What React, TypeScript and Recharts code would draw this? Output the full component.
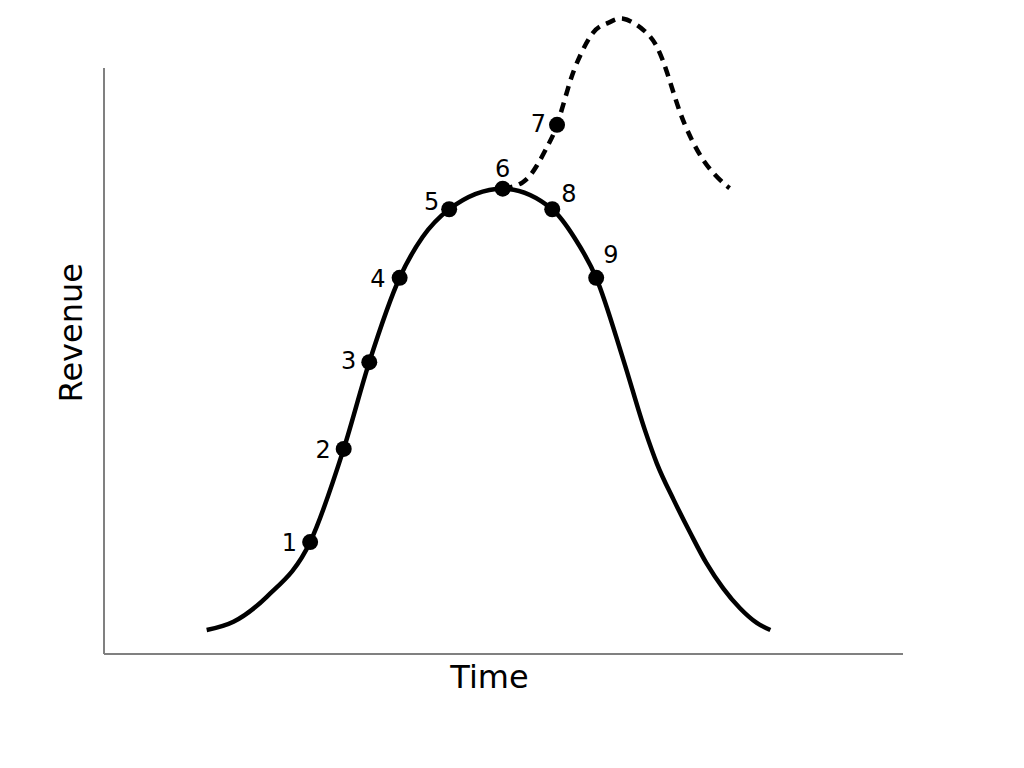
import {
  ComposedChart,
  Line,
  Scatter,
  XAxis,
  YAxis,
  ReferenceLine,
} from "recharts";

// ─── Data ────────────────────────────────────────────────
// Solid revenue curve (time, revenue)
const CURVE_X = [12.85, 16.2, 20.4, 25.8, 30.0, 33.2, 37.0, 39.9, 43.2, 49.9, 56.1, 58.9, 61.6, 65.0, 67.7, 69.2, 71.3, 73.4, 75.4, 77.5, 79.6, 81.7, 83.4];
const CURVE_Y = [4.1, 5.5, 9.8, 19.1, 35.0, 49.8, 64.2, 71.2, 75.9, 79.4, 75.9, 71.0, 64.2, 50.2, 38.2, 32.5, 26.3, 20.6, 15.5, 11.2, 7.8, 5.3, 4.1];

// Dotted alternative path after point 6
const ALT_X = [49.9, 52.4, 54.2, 55.6, 56.7, 58.0, 59.2, 61.2, 63.1, 65.0, 67.5, 69.2, 70.5, 71.7, 73.0, 75.0, 77.1, 78.3];
const ALT_Y = [79.4, 80.5, 83.4, 86.9, 90.3, 96.2, 100.9, 106.0, 107.7, 108.4, 106.5, 103.6, 99.1, 94.0, 89.4, 84.3, 80.9, 79.5];

// Numbered points
const POINT_IDS = ["1", "2", "3", "4", "5", "6", "7", "8", "9"];
const POINT_X = [25.8, 30.0, 33.2, 37.0, 43.2, 49.9, 56.7, 56.1, 61.6];
const POINT_Y = [19.1, 35.0, 49.8, 64.2, 75.9, 79.4, 90.3, 75.9, 64.2];

const X_DOMAIN = [0, 100];
const Y_DOMAIN = [0, 110];
const Y_AXIS_TOP = 100;

const curveData = CURVE_X.map((x, i) => ({ x, y: CURVE_Y[i] }));
const altData = ALT_X.map((x, i) => ({ x, y: ALT_Y[i] }));
const pointData = POINT_IDS.map((id, i) => ({ id, x: POINT_X[i], y: POINT_Y[i] }));

// ─── Styles ──────────────────────────────────────────────
const FONT = "'DejaVu Sans', Verdana, sans-serif";
const AXIS_GRAY = "#808080";

// where each number sits relative to its dot
const LABEL_PLACE: Record<string, { dx: number; dy: number; anchor: "start" | "middle" | "end" }> = {
  "1": { dx: -13, dy: 9, anchor: "end" },
  "2": { dx: -13, dy: 9, anchor: "end" },
  "3": { dx: -13, dy: 7, anchor: "end" },
  "4": { dx: -14, dy: 9, anchor: "end" },
  "5": { dx: -10, dy: 1, anchor: "end" },
  "6": { dx: 0, dy: -12, anchor: "middle" },
  "7": { dx: -11, dy: 7, anchor: "end" },
  "8": { dx: 9, dy: -7, anchor: "start" },
  "9": { dx: 7, dy: -15, anchor: "start" },
};

function PointMark(props: any) {
  const { cx, cy, payload } = props;
  if (cx == null || cy == null) return null;
  const p = LABEL_PLACE[payload.id];
  return (
    <g>
      <circle cx={cx} cy={cy} r={8} fill="#000" />
      <text
        x={cx + p.dx}
        y={cy + p.dy}
        textAnchor={p.anchor}
        fontSize={24}
        fontFamily={FONT}
        fill="#000"
      >
        {payload.id}
      </text>
    </g>
  );
}

function XTitle(props: any) {
  const vb = props.viewBox || { x: 96, y: 646, width: 799, height: 60 };
  const x = vb.x + vb.width / 2 - 14;
  const y = vb.y + 34;
  return (
    <text x={x} y={y} textAnchor="middle" fontSize={32} fontFamily={FONT} fill="#000">
      Time
    </text>
  );
}

function YTitle(props: any) {
  const vb = props.viewBox || { x: 0, y: 1.4, width: 96, height: 644.6 };
  const x = vb.x + vb.width - 22;
  const y = vb.y + vb.height / 2 + 1;
  return (
    <text
      x={x}
      y={y}
      transform={`rotate(-90 ${x} ${y})`}
      textAnchor="middle"
      fontSize={32}
      fontFamily={FONT}
      fill="#000"
    >
      Revenue
    </text>
  );
}

// ─── Component ───────────────────────────────────────────
export default function App() {
  return (
    <div style={{ width: 1008, height: 752 }}>
      <ComposedChart
        width={1008}
        height={752}
        margin={{ top: 1.4, right: 113, bottom: 46, left: 0 }}
      >
        <XAxis
          type="number"
          dataKey="x"
          domain={X_DOMAIN}
          tick={false}
          tickLine={false}
          axisLine={{ stroke: AXIS_GRAY, strokeWidth: 2 }}
          height={60}
          label={<XTitle />}
        />
        <YAxis
          type="number"
          dataKey="y"
          domain={Y_DOMAIN}
          tick={false}
          tickLine={false}
          axisLine={false}
          width={96}
          label={<YTitle />}
        />
        <ReferenceLine
          segment={[
            { x: 0, y: 0 },
            { x: 0, y: Y_AXIS_TOP },
          ]}
          stroke={AXIS_GRAY}
          strokeWidth={2}
        />
        <Line
          data={curveData}
          dataKey="y"
          type="monotone"
          stroke="#000"
          strokeWidth={4.5}
          dot={false}
          activeDot={false}
          isAnimationActive={false}
        />
        <Line
          data={altData}
          dataKey="y"
          type="natural"
          stroke="#000"
          strokeWidth={4.5}
          strokeDasharray="10 7"
          dot={false}
          activeDot={false}
          isAnimationActive={false}
        />
        <Scatter
          data={pointData}
          dataKey="y"
          shape={<PointMark />}
          isAnimationActive={false}
        />
      </ComposedChart>
    </div>
  );
}
